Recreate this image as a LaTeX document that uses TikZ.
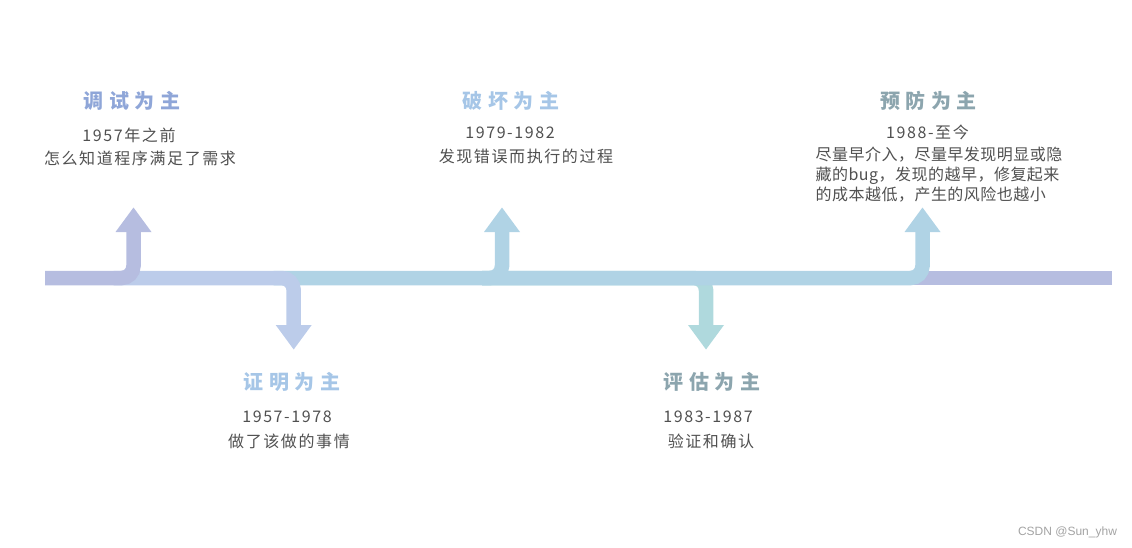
\documentclass[tikz,border=0pt]{standalone}
\usepackage{fontspec}
\setmainfont{Liberation Sans}
\newfontfamily\bodyfont{Noto Sans CJK SC}[LetterSpace=10]
\newfontfamily\titlefont{Noto Sans CJK SC}[LetterSpace=28]
\usetikzlibrary{calc}
\definecolor{trackLav}{HTML}{B6BDE0}
\definecolor{trackBlue}{HTML}{BCCCEA}
\definecolor{trackSky}{HTML}{B0D3E5}
\definecolor{trackTeal}{HTML}{AFD9DD}
\definecolor{titleIris}{HTML}{8FA6D8}
\definecolor{titleSky}{HTML}{A6C6E7}
\definecolor{titleSlate}{HTML}{8CA5AE}
\definecolor{inkGrey}{HTML}{505050}
\definecolor{markGrey}{HTML}{A3A3A3}

\begin{document}
\begin{tikzpicture}[
  x=1pt, y=-1pt,
  track/.style={draw=#1, line width=14.5pt, rounded corners=12pt},
  title/.style={text=#1, font=\titlefont\bfseries\fontsize{20pt}{24pt}\selectfont, inner sep=0pt},
  body/.style={text=inkGrey, font=\bodyfont\fontsize{16pt}{20pt}\selectfont, inner sep=0pt},
]
\useasboundingbox (0,0) rectangle (1132,547);

\coordinate (start)   at (45,278);
\coordinate (end)     at (1112,278);
\coordinate (debug)   at (133.5,232);
\coordinate (proof)   at (293.7,325);
\coordinate (break)   at (502,232);
\coordinate (assess)  at (706,325);
\coordinate (prevent) at (922.5,232);

% timeline, drawn right to left so each bend sits on top
\draw[track=trackLav]  ($(prevent |- start)+(-20,0)$) -- (end);
\draw[track=trackTeal] ($(break |- start)+(-20,0)$) -| (assess);
\draw[track=trackSky]  ($(break |- start)+(-20,0)$) -| (prevent);
\draw[track=trackSky]  ($(proof |- start)+(-20,0)$) -| (break);
\draw[track=trackBlue] ($(debug |- start)+(-20,0)$) -| (proof);
\draw[track=trackLav]  (start) -| (debug);

\foreach \c/\d/\col in {debug/-1/trackLav, proof/1/trackBlue, break/-1/trackSky,
                        assess/1/trackTeal, prevent/-1/trackSky}
  \fill[\col] ($(\c)+(-18,0)$) -- ($(\c)+(18,0)$) -- ($(\c)+(0,24.5*\d)$) -- cycle;

% labels above
\node[title=titleIris] (debugTitle) at (132,101) {调试为主};
\node[body] (debugYear) at (129,135) {1957年之前};
\node[body] (debugDesc) at (140,158) {怎么知道程序满足了需求};

\node[title=titleSky] (breakTitle) at (511,101) {破坏为主};
\node[body] (breakYear) at (510,133) {1979-1982};
\node[body] (breakDesc) at (526,156) {发现错误而执行的过程};

\node[title=titleSlate] (preventTitle) at (928.5,101) {预防为主};
\node[body] (preventYear) at (927.5,132) {1988-至今};
\node[body, align=left,
      font={\bodyfont\addfontfeature{LetterSpace=3}\fontsize{16pt}{20pt}\selectfont}]
  (preventDesc) at (939,175)
  {尽量早介入，尽量早发现明显或隐\\藏的bug，发现的越早，修复起来\\的成本越低，产生的风险也越小};

% labels below
\node[title=titleSky] (proofTitle) at (292,382) {证明为主};
\node[body] (proofYear) at (287,417) {1957-1978};
\node[body] (proofDesc) at (289,441) {做了该做的事情};

\node[title=titleSlate] (assessTitle) at (712,382) {评估为主};
\node[body] (assessYear) at (708,417) {1983-1987};
\node[body] (assessDesc) at (711,441) {验证和确认};

\node[text=markGrey, font=\fontsize{12pt}{14pt}\selectfont, inner sep=0pt] (mark) at (1067.5,532) {CSDN @Sun\_yhw};
\end{tikzpicture}
\end{document}
